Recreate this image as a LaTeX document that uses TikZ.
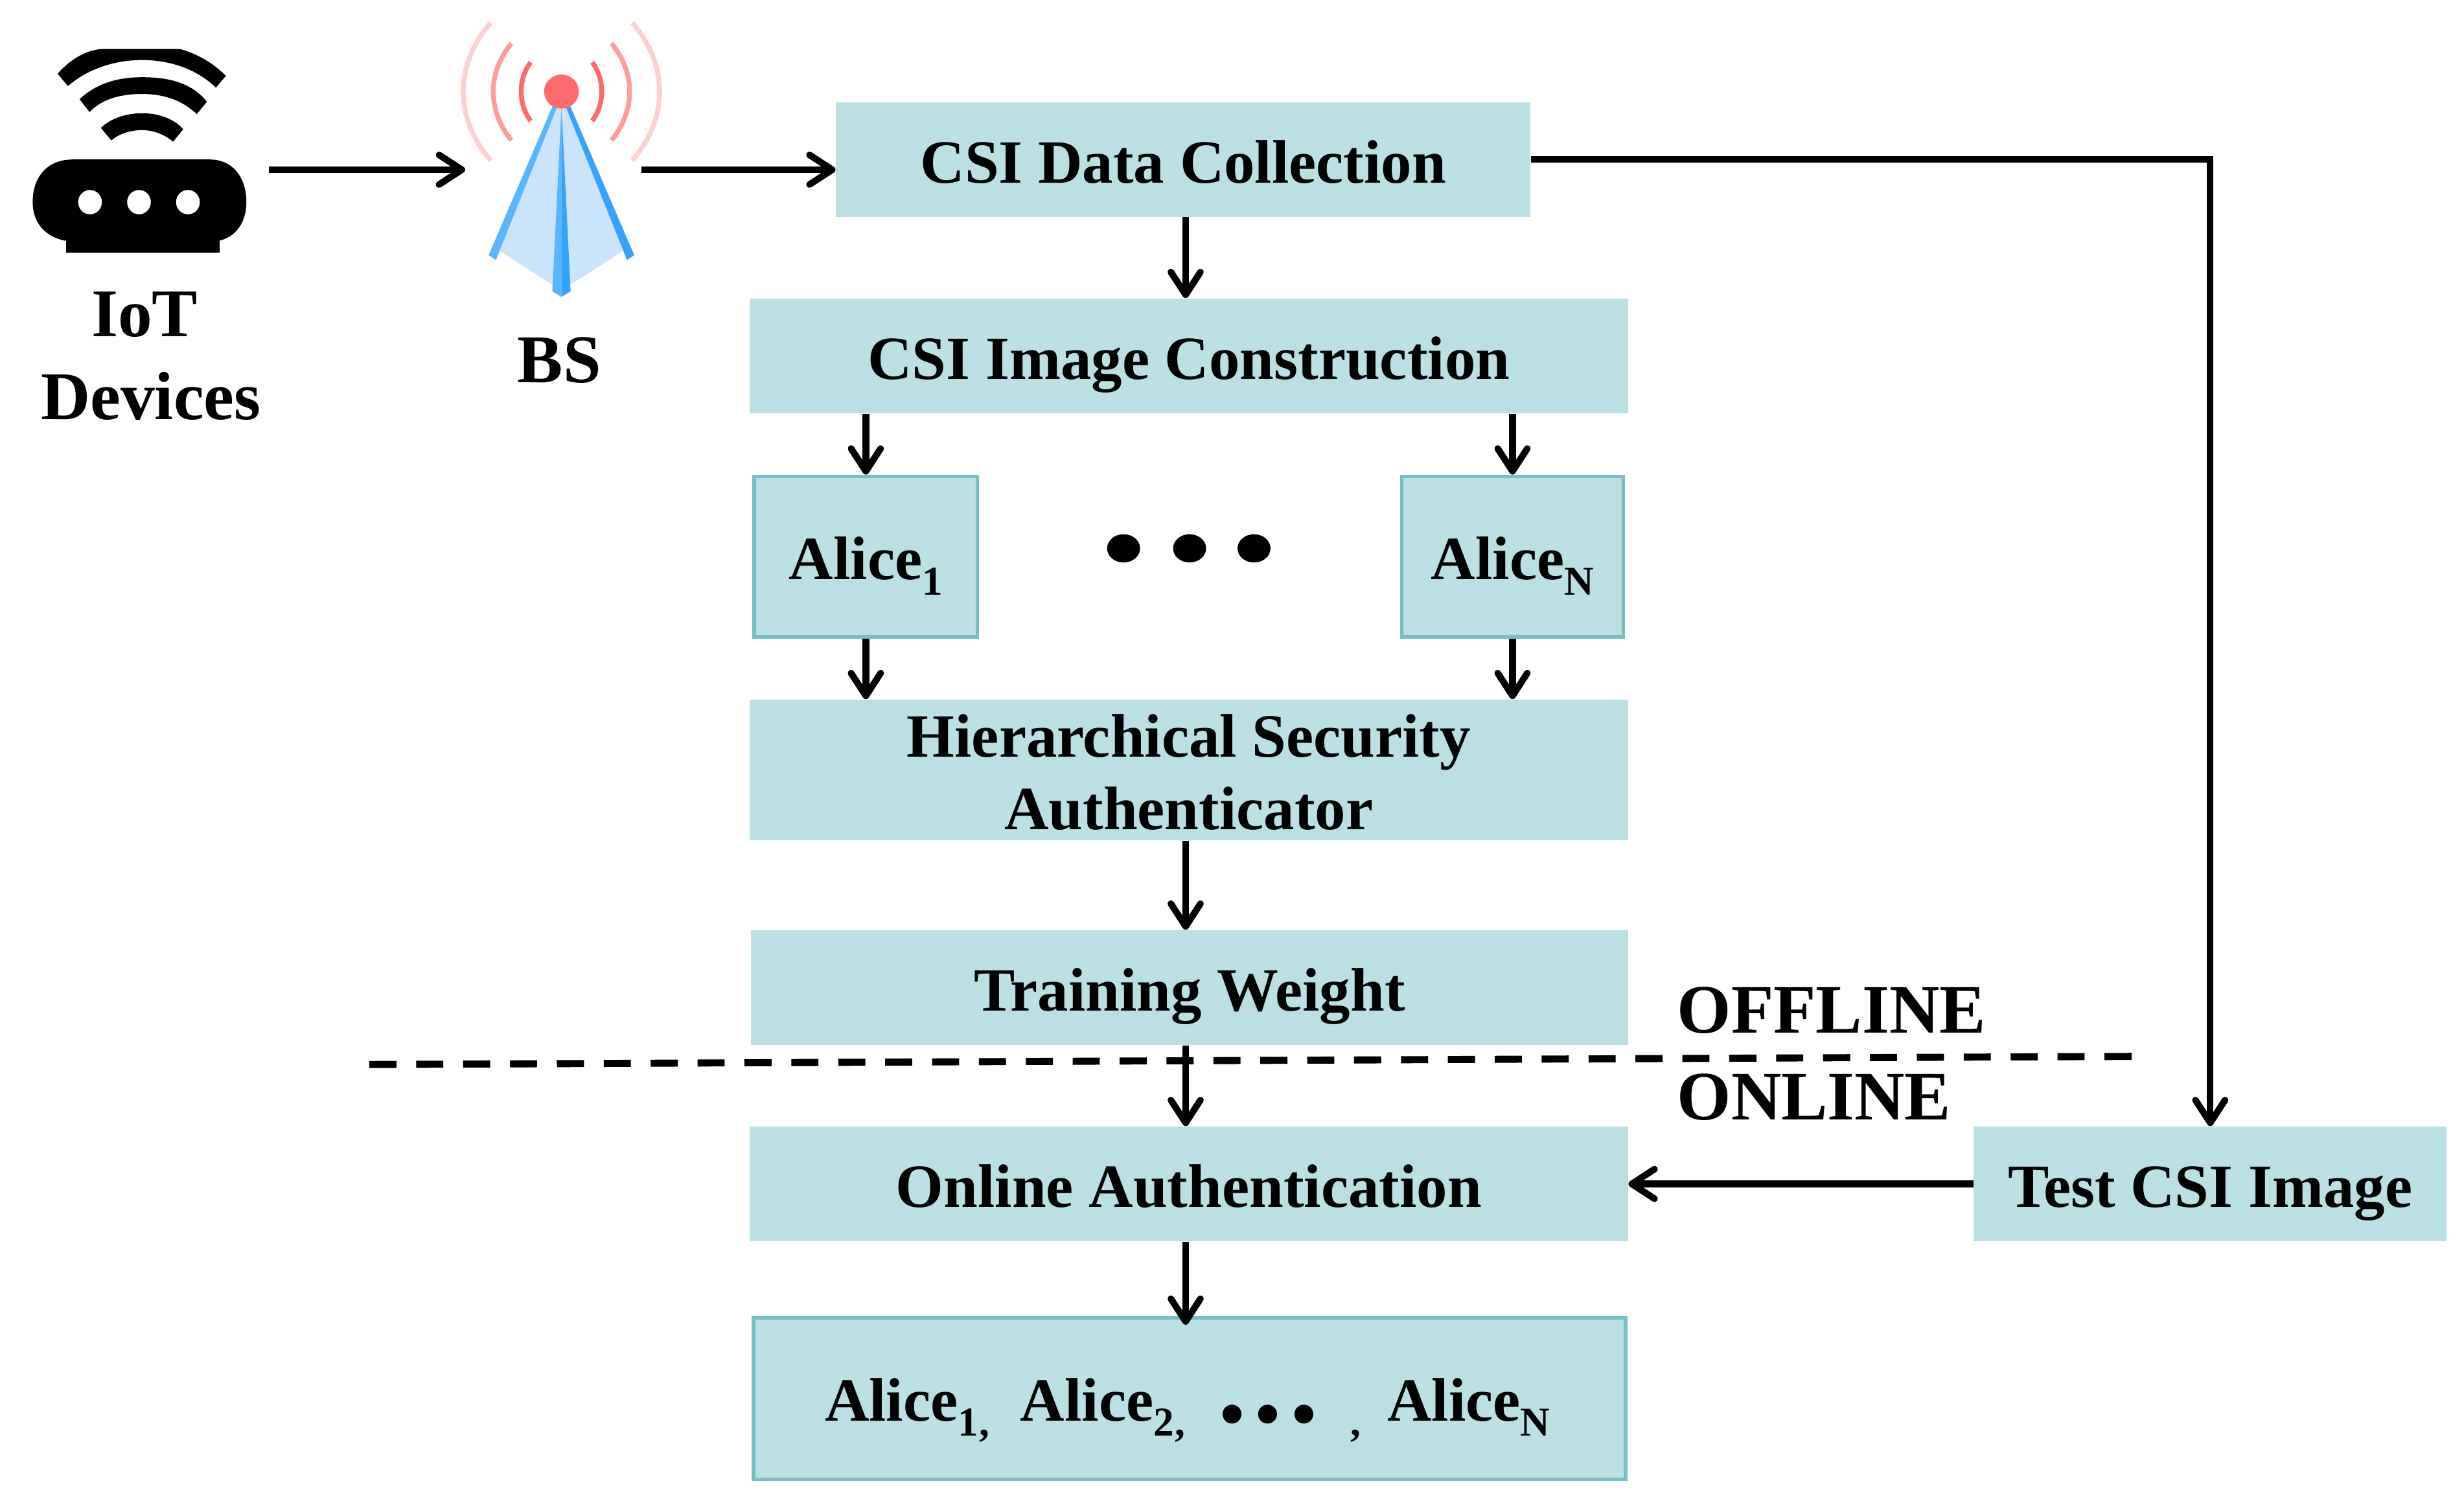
\documentclass[tikz,border=0pt]{standalone}
\usepackage{fontspec}
\setmainfont{Liberation Serif}
\usetikzlibrary{arrows.meta,calc}
\definecolor{boxfill}{HTML}{BAE0E3}
\definecolor{boxline}{HTML}{76BFC5}
\definecolor{lightb}{HTML}{C9E4FB}
\definecolor{midb}{HTML}{57B6FF}
\definecolor{darkb}{HTML}{36A3FF}
\definecolor{r1}{HTML}{FF6B6B}
\definecolor{r2}{HTML}{FF9C9C}
\definecolor{r3}{HTML}{FFCECE}
\newcommand{\sbs}[1]{\raisebox{-6.6pt}{\fontsize{18}{18}\selectfont #1}}
\tikzset{
  plainbox/.style={fill=boxfill,draw=none,inner sep=0pt,align=center,font=\fontsize{27}{32}\selectfont\bfseries},
  onebox/.style={plainbox,text height=20.4pt,text depth=0pt},
  linedbox/.style={onebox,draw=boxline,line width=1.6pt},
  lab/.style={inner sep=0pt,anchor=base,font=\fontsize{30}{34}\selectfont\bfseries},
  biglab/.style={inner sep=0pt,anchor=base west,font=\fontsize{30.5}{34}\selectfont\bfseries},
  reslab/.style={inner sep=0pt,anchor=base west,font=\fontsize{27}{32}\selectfont\bfseries},
  flowtip/.style={-{Straight Barb[length=10pt,width=13pt,line width=2.9pt,round]}},
  flow/.style={line width=2.9pt,flowtip},
  wave/.style={line width=2.1pt}
}
\begin{document}
\begin{tikzpicture}[x=0.024254cm,y=-0.024254cm]
\useasboundingbox (0,0) rectangle (1568,955);
% boxes
\node[onebox,minimum width=442*0.024254cm,minimum height=73*0.024254cm] (data) at (753,101.5) {CSI Data Collection};
\node[onebox,minimum width=559*0.024254cm,minimum height=73*0.024254cm] (img) at (756.5,226.5) {CSI Image Construction};
\node[linedbox,minimum width=142*0.024254cm,minimum height=102*0.024254cm] (a1) at (551,354.2) {Alice\sbs{1}};
\node[linedbox,minimum width=141*0.024254cm,minimum height=102*0.024254cm] (aN) at (962.5,354.2) {Alice\sbs{N}};
\node[plainbox,minimum width=559*0.024254cm,minimum height=89.5*0.024254cm] (hier) at (756.5,490)
  {\raisebox{-10.15pt}[0pt][0pt]{\begin{tabular}{@{}c@{}}Hierarchical Security\\Authenticator\end{tabular}}};
\node[onebox,minimum width=558*0.024254cm,minimum height=73*0.024254cm] (train) at (757,628.5) {Training Weight};
\node[onebox,minimum width=559*0.024254cm,minimum height=73*0.024254cm] (online) at (756.5,753.5) {Online Authentication};
\node[onebox,minimum width=301*0.024254cm,minimum height=73*0.024254cm] (test) at (1406.5,753.5) {Test CSI Image};
\node[linedbox,minimum width=555*0.024254cm,minimum height=103*0.024254cm] (res) at (757,890) {};
% result row
\node[reslab] (r1t) at (524.6,904.3) {Alice\sbs{1\hspace{0.03em},}};
\node[reslab] (r2t) at (649,904.3) {Alice\sbs{2\hspace{0.03em},}};
\node[reslab] (r3t) at (859,904.3) {\sbs{,}};
\node[reslab] (r4t) at (882.5,904.3) {Alice\sbs{N}};
\foreach \x in {784,806.6,829.7} \fill (\x,900) circle (6);
% dots between the Alice boxes
\foreach \x in {715,757,798} \fill (\x,349) ellipse (10.5 and 9);
% labels
\node[lab] (iot) at (92,214) {IoT};
\node[lab] (dev) at (96,267) {Devices};
\node[lab] (bs) at (356,243.4) {BS};
\node[biglab] (off) at (1067,657.5) {OFFLINE};
\node[biglab] (on) at (1067,712.8) {ONLINE};
% icons
\begin{scope}[scale=1.005]
\fill (41.7,140) rectangle (139,160);
\fill (46,101) -- (133,101) .. controls (147,101) and (156,112) .. (156,128) .. controls (156,142) and (148,152) .. (135,153) -- (46,153) .. controls (30,152) and (20.7,142) .. (20.7,128) .. controls (20.7,112) and (30,101) .. (46,101) -- cycle;
\fill[white] (57,128) ellipse (7.5 and 7.7);
\fill[white] (88,128) ellipse (7.5 and 7.7);
\fill[white] (119,128) ellipse (7.5 and 7.7);
\fill (36.5,46.7) .. controls (44,38) and (55,31) .. (66,31) -- (113.7,31) .. controls (125,34) and (135,40) .. (143,48) -- (136.7,55.5) .. controls (125,44) and (108,38) .. (90,38) .. controls (72,38) and (55,44) .. (43,54.5) -- cycle;
\fill (50.4,62.8) .. controls (62,52) and (76,48.9) .. (90,48.9) .. controls (106,48.9) and (121,52) .. (131,64.4) -- (124.6,72.3) .. controls (115,63) and (103,59.5) .. (90,59.5) .. controls (78,59.5) and (65,62) .. (56.7,71) -- cycle;
\fill (63.9,81) .. controls (70,75) and (80,71.7) .. (90,71.7) .. controls (100,71.7) and (110,75) .. (116,81.8) -- (109.6,89.7) .. controls (104,85) and (97,82.4) .. (90,82.4) .. controls (82,82.4) and (75,85) .. (70.5,88.9) -- cycle;
\fill[lightb] (350,68) -- (316.6,159) -- (355.5,184) -- (394.4,159) -- (361,68) -- cycle;
\fill[midb] (350,67) -- (309.4,161.6) -- (314,164.7) -- (353,67) -- cycle;
\fill[darkb] (361,67) -- (401.6,161.6) -- (397,164.7) -- (358,67) -- cycle;
\fill[midb] (355.5,68) -- (349.7,184.5) -- (355.5,188) -- cycle;
\fill[darkb] (355.5,68) -- (361.3,184.5) -- (355.5,188) -- cycle;
\fill[r1] (355.5,58) ellipse (11 and 10.8);
\foreach \s in {-1,1}{
  \draw[wave,r1] ({355.5+\s*19.5},39.5) .. controls ({355.5+\s*27.5},50) and ({355.5+\s*27.5},66) .. ({355.5+\s*19.5},76.5);
  \draw[wave,r2] ({355.5+\s*31.7},27.5) .. controls ({355.5+\s*47},46) and ({355.5+\s*47},70) .. ({355.5+\s*31.7},88.8);
  \draw[wave,r3] ({355.5+\s*44.7},14.3) .. controls ({355.5+\s*68},41) and ({355.5+\s*68},75) .. ({355.5+\s*44.7},101.6);
}
\end{scope}
% divider
\coordinate (dl) at (235,677.5);
\coordinate (dr) at (1360,672.3);
\draw[line width=3.1pt,dash pattern=on 11.9pt off 8.7pt] (dl) -- (dr);
% free ends and the connector axis
\coordinate (rt) at (171,108);
\coordinate (bsL) at (296,108);
\coordinate (bsR) at (408,108);
\coordinate (cx) at (754.5,0);
% connectors
\draw[flow] (rt) -- (bsL);
\draw[flow] (bsR) -- (data.west |- bsR);
\draw[flow] (data.south -| cx) -- (img.north -| cx);
\draw[flow] (img.south -| a1.north) -- (a1.north);
\draw[flow] (img.south -| aN.north) -- (aN.north);
\draw[flow] (a1.south) -- (a1.south |- hier.north);
\draw[flow] (aN.south) -- (aN.south |- hier.north);
\draw[flow] (hier.south -| cx) -- (train.north -| cx);
\draw[flow] (train.south -| cx) -- (online.north -| cx);
\draw[flow,shorten >=-4pt] (online.south -| cx) -- (res.north -| cx);
\draw[flow] (data.east) -| (test.north);
\draw[flow] (test.west) -- (online.east);
\end{tikzpicture}
\end{document}
